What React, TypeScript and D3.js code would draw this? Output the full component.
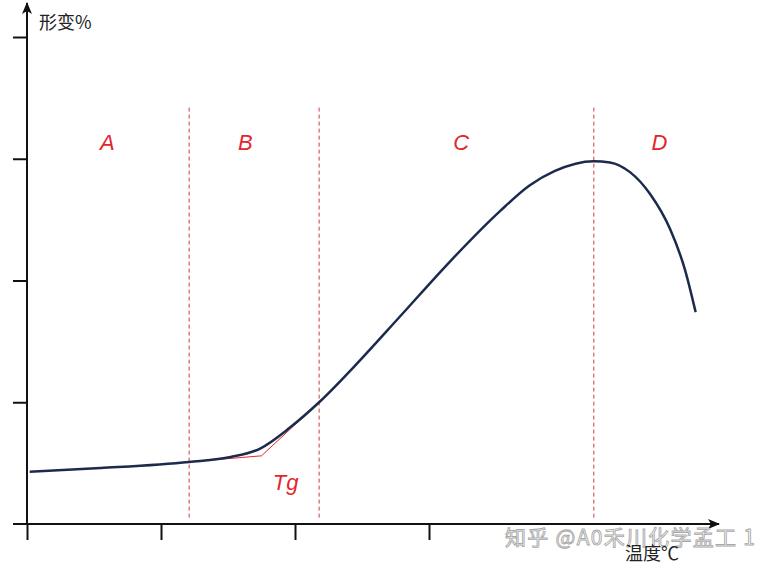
import { useEffect, useRef } from 'react';
import * as d3 from 'd3';

// curve (temperature units, deformation units)
const curveX = [0.02, 0.55, 1.21, 1.52, 1.74, 1.96, 2.18, 2.49, 2.78, 3.16, 3.53, 3.75, 3.94, 4.23, 4.35, 4.5, 4.65, 4.8, 4.91, 4.99];
const curveY = [0.43, 0.46, 0.51, 0.55, 0.62, 0.79, 1.0, 1.35, 1.7, 2.16, 2.57, 2.78, 2.9, 2.98, 2.97, 2.89, 2.71, 2.42, 2.09, 1.74];

// Tg tangent construction
const tgX = [1.21, 1.75, 2.18];
const tgY = [0.51, 0.56, 1.0];

const boundaries = [1.21, 2.18, 4.23];
const regionNames = ['A', 'B', 'C', 'D'];
const regionX = [0.6, 1.63, 3.24, 4.72];

const xTicks = [0, 1, 2, 3];
const yTicks = [1, 2, 3, 4];

const RED = '#e3262d';

export default function App() {
  const ref = useRef<SVGSVGElement>(null);

  useEffect(() => {
    const svg = d3.select(ref.current);
    svg.selectAll('*').remove();

    const x = d3.scaleLinear().domain([0, 5]).range([27, 697]);
    const y = d3.scaleLinear().domain([0, 4]).range([524, 37]);

    const defs = svg.append('defs');
    defs.append('marker')
      .attr('id', 'arrow')
      .attr('viewBox', '0 0 12 10')
      .attr('refX', 11).attr('refY', 5)
      .attr('markerWidth', 12).attr('markerHeight', 10)
      .attr('markerUnits', 'userSpaceOnUse')
      .attr('orient', 'auto')
      .append('path')
      .attr('d', 'M0,0 L12,5 L0,10 L3,5 Z')
      .attr('fill', '#111');

    // dashed region boundaries
    svg.append('g').selectAll('line')
      .data(boundaries)
      .join('line')
      .attr('x1', (d) => x(d)).attr('x2', (d) => x(d))
      .attr('y1', y(3.42)).attr('y2', y(0.03))
      .attr('stroke', '#d43a3a')
      .attr('stroke-width', 1)
      .attr('stroke-dasharray', '4,3');

    // axes
    const yAxis = svg.append('g')
      .attr('transform', `translate(${x(0)},0)`)
      .call(d3.axisLeft(y).tickValues(yTicks).tickSize(14).tickFormat(() => ''));
    yAxis.select('.domain').remove();
    yAxis.selectAll('line').attr('stroke', '#111').attr('stroke-width', 2);

    const xAxis = svg.append('g')
      .attr('transform', `translate(0,${y(0)})`)
      .call(d3.axisBottom(x).tickValues(xTicks).tickSize(16).tickFormat(() => ''));
    xAxis.select('.domain').remove();
    xAxis.selectAll('line').attr('stroke', '#111').attr('stroke-width', 2);

    svg.append('line')
      .attr('x1', x(0)).attr('x2', x(0))
      .attr('y1', y(0)).attr('y2', 3)
      .attr('stroke', '#111').attr('stroke-width', 2)
      .attr('marker-end', 'url(#arrow)');
    svg.append('line')
      .attr('x1', 13).attr('x2', 719)
      .attr('y1', y(0)).attr('y2', y(0))
      .attr('stroke', '#111').attr('stroke-width', 2)
      .attr('marker-end', 'url(#arrow)');

    // Tg tangents
    const line = d3.line<number>()
      .x((_, i) => x(tgX[i]))
      .y((_, i) => y(tgY[i]));
    svg.append('path')
      .attr('d', line(tgX))
      .attr('fill', 'none')
      .attr('stroke', RED)
      .attr('stroke-width', 1);

    // main curve
    const curve = d3.line<number>()
      .x((_, i) => x(curveX[i]))
      .y((_, i) => y(curveY[i]))
      .curve(d3.curveMonotoneX);
    svg.append('path')
      .attr('d', curve(curveX))
      .attr('fill', 'none')
      .attr('stroke', '#1c2a4c')
      .attr('stroke-width', 2.5);

    // region labels
    svg.append('g').selectAll('text')
      .data(regionNames)
      .join('text')
      .attr('x', (_, i) => x(regionX[i]))
      .attr('y', y(3.07))
      .attr('text-anchor', 'middle')
      .attr('font-family', 'Liberation Sans, Arial, sans-serif')
      .attr('font-style', 'italic')
      .attr('font-size', 22)
      .attr('fill', RED)
      .text((d) => d);

    svg.append('text')
      .attr('x', x(1.93)).attr('y', 490)
      .attr('text-anchor', 'middle')
      .attr('font-family', 'Liberation Sans, Arial, sans-serif')
      .attr('font-style', 'italic')
      .attr('font-size', 22)
      .attr('fill', RED)
      .text('Tg');

    // axis titles
    svg.append('text')
      .attr('x', 39).attr('y', 29)
      .attr('font-family', 'Noto Sans CJK SC, sans-serif')
      .attr('font-size', 18)
      .attr('fill', '#222')
      .text('形变%');

    // watermark
    svg.append('text')
      .attr('x', 505).attr('y', 545)
      .attr('font-family', 'Noto Sans CJK SC, sans-serif')
      .attr('font-size', 21)
      .attr('textLength', 250)
      .attr('lengthAdjust', 'spacing')
      .attr('fill', '#fff')
      .attr('stroke', '#a8a8a8')
      .attr('stroke-width', 0.9)
      .text('知乎 @A0禾川化学孟工 1');

    svg.append('text')
      .attr('x', 625).attr('y', 560)
      .attr('font-family', 'Noto Sans CJK SC, sans-serif')
      .attr('font-size', 18)
      .attr('fill', '#222')
      .text('温度℃');
  }, []);

  return (
    <svg
      ref={ref}
      width={775}
      height={567}
      style={{ position: 'absolute', left: 0, top: 0, background: '#fff' }}
    />
  );
}
